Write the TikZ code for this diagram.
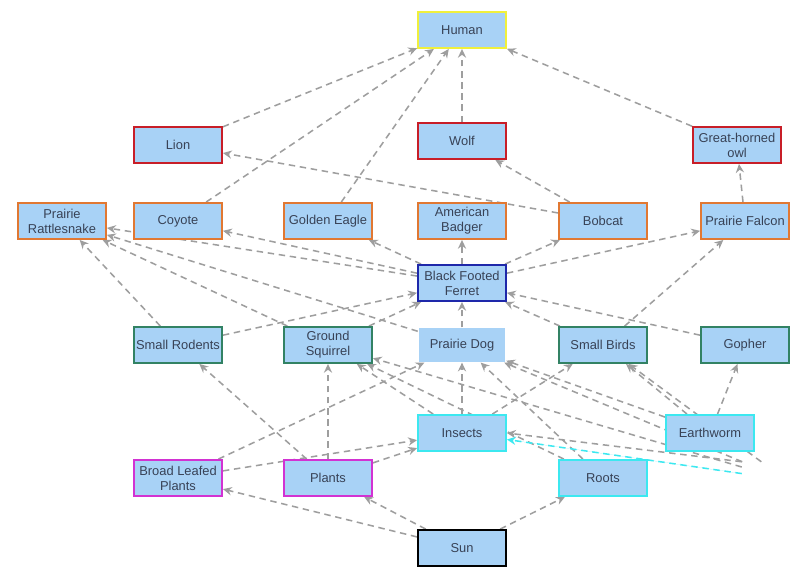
\documentclass[tikz,border=0pt]{standalone}
\usepackage{fontspec}
\setmainfont{Liberation Sans}
\usetikzlibrary{arrows,arrows.meta,backgrounds}
\definecolor{boxfill}{RGB}{168,210,246}
\definecolor{labeltext}{RGB}{56,66,86}
\definecolor{edgegray}{RGB}{158,158,158}
\definecolor{humanline}{RGB}{240,240,60}
\definecolor{redline}{RGB}{200,30,40}
\definecolor{orangeline}{RGB}{225,120,50}
\definecolor{ferretline}{RGB}{30,40,170}
\definecolor{greenline}{RGB}{50,130,100}
\definecolor{cyanline}{RGB}{60,232,240}
\definecolor{magentaline}{RGB}{210,50,210}
\tikzset{species/.style={draw, line width=1.6pt, fill=boxfill, text=labeltext, minimum width=2.64cm, minimum height=1.08cm, inner sep=1pt, align=center, font=\fontsize{11}{12.8}\selectfont}, apex/.style={species, draw=humanline}, carnivore/.style={species, draw=redline}, predator/.style={species, draw=orangeline}, ferretbox/.style={species, draw=ferretline}, grazer/.style={species, draw=greenline}, plainbox/.style={species, draw=none, minimum width=2.6cm, minimum height=1cm}, soilbox/.style={species, draw=cyanline}, producer/.style={species, draw=magentaline}, sunbox/.style={species, draw=black}, ghost/.style={minimum width=2.64cm, minimum height=1.08cm}, feeds/.style={-{Stealth[length=7.5pt,width=7pt,inset=2.5pt]}, draw=edgegray, line width=1.3pt, dash pattern=on 5.5pt off 4pt}}

\begin{document}
\begin{tikzpicture}[x=0.03cm,y=-0.03cm]
\useasboundingbox (0,0) rectangle (800,576);
\node[apex] (human) at (462,30) {Human};
\node[carnivore] (lion) at (178,145) {Lion};
\node[carnivore] (wolf) at (462,141) {Wolf};
\node[carnivore] (owl) at (737,145) {Great-horned\\owl};
\node[predator] (rattle) at (62,221) {Prairie\\Rattlesnake};
\node[predator] (coyote) at (178,221) {Coyote};
\node[predator] (eagle) at (328,221) {Golden Eagle};
\node[predator] (badger) at (462,221) {American\\Badger};
\node[predator] (bobcat) at (603,221) {Bobcat};
\node[predator] (falcon) at (745,221) {Prairie Falcon};
\node[ferretbox] (ferret) at (462,283) {Black Footed\\Ferret};
\node[grazer] (rodents) at (178,345) {Small Rodents};
\node[grazer] (squirrel) at (328,345) {Ground\\Squirrel};
\node[plainbox] (pdog) at (462,345) {Prairie Dog};
\node[grazer] (birds) at (603,345) {Small Birds};
\node[grazer] (gopher) at (745,345) {Gopher};
\node[soilbox] (insects) at (462,433) {Insects};
\node[soilbox] (worm) at (710,433) {Earthworm};
\node[producer] (leafy) at (178,478) {Broad Leafed\\Plants};
\node[producer] (plants) at (328,478) {Plants};
\node[soilbox] (roots) at (603,478) {Roots};
\node[sunbox] (sun) at (462,548) {Sun};
\node[ghost] (decomp) at (786,480) {};
\begin{scope}[on background layer]
\fill[white] (0,0) rectangle (800,576);
% top of the web
\draw[feeds] (lion) -- (human);
\draw[feeds] (coyote) -- (human);
\draw[feeds] (eagle) -- (human);
\draw[feeds] (wolf) -- (human);
\draw[feeds] (owl) -- (human);
\draw[feeds] (bobcat) -- (lion);
\draw[feeds] (bobcat) -- (wolf);
\draw[feeds] (falcon) -- (owl);
% ferret and its neighbours
\draw[feeds] (ferret) -- (rattle);
\draw[feeds] (ferret) -- (coyote);
\draw[feeds] (ferret) -- (eagle);
\draw[feeds] (ferret) -- (badger);
\draw[feeds] (ferret) -- (bobcat);
\draw[feeds] (ferret) -- (falcon);
\draw[feeds] (pdog) -- (rattle);
\draw[feeds] (squirrel) -- (rattle);
\draw[feeds] (rodents) -- (rattle);
\draw[feeds] (rodents) -- (ferret);
\draw[feeds] (squirrel) -- (ferret);
\draw[feeds] (pdog) -- (ferret);
\draw[feeds] (birds) -- (ferret);
\draw[feeds] (gopher) -- (ferret);
\draw[feeds] (birds) -- (falcon);
% lower levels
\draw[feeds] (plants) -- (rodents);
\draw[feeds] (plants) -- (squirrel);
\draw[feeds] (insects) -- (squirrel);
\draw[feeds] (roots) -- (squirrel);
\draw[feeds] (decomp) -- (squirrel);
\draw[feeds] (leafy) -- (pdog);
\draw[feeds] (insects) -- (pdog);
\draw[feeds] (roots) -- (pdog);
\draw[feeds] (worm) -- (pdog);
\draw[feeds] (decomp) -- (pdog);
\draw[feeds] (insects) -- (birds);
\draw[feeds] (worm) -- (birds);
\draw[feeds] (decomp) -- (birds);
\draw[feeds] (worm) -- (gopher);
\draw[feeds] (leafy) -- (insects);
\draw[feeds] (plants) -- (insects);
\draw[feeds] (decomp.north west) -- (insects.east);
\draw[feeds, draw=cyanline, fill=cyanline] (decomp) -- (insects);
\draw[feeds] (sun) -- (leafy);
\draw[feeds] (sun) -- (plants);
\draw[feeds] (sun) -- (roots);
\end{scope}
\end{tikzpicture}
\end{document}
